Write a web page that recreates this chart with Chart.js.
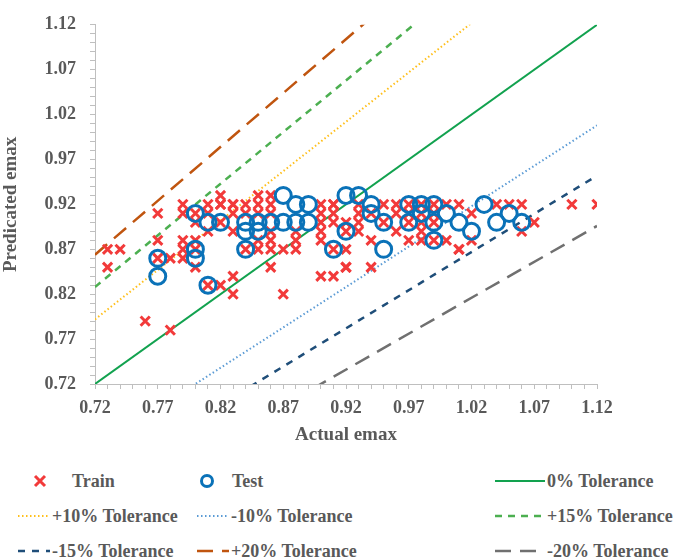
<!DOCTYPE html>
<html>
<head>
<meta charset="utf-8">
<script src="https://cdn.jsdelivr.net/npm/chart.js@4"></script>
<style>
    body { margin: 0; background: #fff; }
    #wrap { position: relative; width: 685px; height: 558px; }
    #chartBox { position: absolute; left: 0; top: 0; width: 685px; height: 450px; }
    .lg { position: absolute; font: bold 18px "Liberation Serif", serif; color: #595959; white-space: nowrap; line-height: 20px; }
    .lg svg { position: absolute; top: 0; }
</style>
</head>
<body>
<div id="wrap">
    <div id="chartBox"><canvas id="myChart"></canvas></div>
    <div id="legend"></div>
</div>
<script>
// measured (actual, predicted) pairs
const trainX = [0.73, 0.74, 0.73, 0.77, 0.77, 0.77, 0.76, 0.78, 0.78,
    0.79, 0.79, 0.79, 0.79, 0.79, 0.80, 0.80, 0.80, 0.80, 0.80,
    0.81, 0.81, 0.81, 0.81, 0.82, 0.82, 0.82, 0.82, 0.83, 0.83, 0.83,
    0.85, 0.86, 0.82, 0.83, 0.84, 0.85, 0.86, 0.90, 0.91,
    0.83, 0.84, 0.85, 0.86, 0.90, 0.91, 0.90, 0.91,
    0.83, 0.86, 0.88, 0.90, 0.85, 0.86, 0.87, 0.88, 0.90,
    0.84, 0.85, 0.86, 0.88, 0.91, 0.86, 0.87, 0.90, 0.91, 0.92, 0.94,
    0.91, 0.93, 0.95, 0.96, 0.97, 0.98, 0.99, 1.00,
    0.93, 0.94, 0.96, 0.97, 0.98, 0.99, 0.92, 0.93, 0.95, 0.97, 0.98, 0.99,
    0.92, 0.93, 0.96, 0.98, 0.94, 0.97, 0.98, 0.99, 1.00, 0.92, 1.01, 0.92,
    1.01, 1.04, 1.05, 1.06, 1.10, 1.12, 1.02, 1.07, 1.06, 1.02, 1.01];
const trainY = [0.87, 0.87, 0.85, 0.91, 0.88, 0.86, 0.79, 0.78, 0.86,
    0.92, 0.91, 0.88, 0.87, 0.86, 0.90, 0.88, 0.85, 0.91, 0.87,
    0.92, 0.91, 0.89, 0.83, 0.93, 0.92, 0.83, 0.90, 0.84, 0.82, 0.92,
    0.93, 0.93, 0.92, 0.92, 0.92, 0.92, 0.92, 0.92, 0.92,
    0.91, 0.91, 0.91, 0.91, 0.91, 0.91, 0.90, 0.90,
    0.89, 0.89, 0.89, 0.89, 0.88, 0.88, 0.87, 0.88, 0.88,
    0.87, 0.87, 0.87, 0.87, 0.87, 0.85, 0.82, 0.84, 0.84, 0.85, 0.85,
    0.92, 0.92, 0.92, 0.92, 0.92, 0.92, 0.92, 0.92,
    0.91, 0.91, 0.91, 0.91, 0.91, 0.91, 0.90, 0.90, 0.90, 0.90, 0.90, 0.90,
    0.89, 0.89, 0.89, 0.89, 0.88, 0.88, 0.88, 0.88, 0.88, 0.87, 0.87, 0.85,
    0.92, 0.92, 0.92, 0.92, 0.92, 0.92, 0.91, 0.90, 0.89, 0.88, 0.87];

const testX = [0.77, 0.77, 0.80, 0.80, 0.80, 0.81, 0.82, 0.81,
    0.84, 0.85, 0.86, 0.87, 0.88, 0.89, 0.84, 0.85, 0.84, 0.87, 0.88, 0.89,
    0.91, 0.92, 0.93, 0.94, 0.94, 0.95, 0.92, 0.95,
    0.97, 0.98, 0.99, 0.97, 0.98, 0.99, 0.99, 1.00, 1.01, 1.02,
    1.03, 1.04, 1.05, 1.06];
const testY = [0.86, 0.84, 0.91, 0.87, 0.86, 0.90, 0.90, 0.83,
    0.90, 0.90, 0.90, 0.90, 0.90, 0.90, 0.89, 0.89, 0.87, 0.93, 0.92, 0.92,
    0.87, 0.93, 0.93, 0.92, 0.91, 0.90, 0.89, 0.87,
    0.92, 0.92, 0.92, 0.90, 0.91, 0.90, 0.88, 0.91, 0.90, 0.89,
    0.92, 0.90, 0.91, 0.90];

// tolerance lines: predicted = factor * actual
const tolLabels = ['0% Tolerance', '+10% Tolerance', '-10% Tolerance', '+15% Tolerance',
    '-15% Tolerance', '+20% Tolerance', '-20% Tolerance'];
const tolFactors = [1.0, 1.1, 0.9, 1.15, 0.85, 1.2, 0.8];
const tolColors = ['#12a24f', '#ffbf1a', '#5b9bd5', '#4caf50', '#1f4e79', '#c0550f', '#707070'];
const tolDash = [[], [1.5, 2.5], [1.5, 2.5], [7, 6], [7, 7], [16, 9], [16, 9]];
const tolWidth = [2, 2, 2, 2.5, 2.5, 2.5, 2.5];

const axisMin = 0.72, axisMax = 1.12;

const datasets = [];
datasets.push({
    label: 'Train', type: 'scatter', order: 2,
    data: trainX.map((x, i) => ({ x: x, y: trainY[i] })),
    pointStyle: 'crossRot', pointRadius: 6.5, borderColor: '#f23a3a', borderWidth: 3,
    backgroundColor: '#f23a3a'
});
datasets.push({
    label: 'Test', type: 'scatter', order: 1,
    data: testX.map((x, i) => ({ x: x, y: testY[i] })),
    pointStyle: 'circle', pointRadius: 8, borderColor: '#0a72b8', borderWidth: 3,
    backgroundColor: 'rgba(0,0,0,0)'
});
tolFactors.forEach((f, i) => {
    datasets.push({
        label: tolLabels[i], type: 'line', order: 3,
        data: [{ x: axisMin, y: f * axisMin }, { x: axisMax, y: f * axisMax }],
        borderColor: tolColors[i], borderDash: tolDash[i], borderWidth: tolWidth[i],
        pointRadius: 0, fill: false, tension: 0
    });
});

function tickLabel(v) {
    let k = Math.round((v - axisMin) / 0.01);
    return k % 5 === 0 ? v.toFixed(2) : '';
}

const font = { family: '"Liberation Serif", serif', weight: 'bold', size: 18 };
const titleFont = { family: '"Liberation Serif", serif', weight: 'bold', size: 19 };
const gray = '#595959';

const ctx = document.getElementById('myChart').getContext('2d');
new Chart(ctx, {
    type: 'scatter',
    data: { datasets: datasets },
    options: {
        responsive: true,
        maintainAspectRatio: false,
        animation: false,
        layout: { padding: { left: 0, right: 88, top: 20, bottom: 0 } },
        plugins: { legend: { display: false }, tooltip: { enabled: false } },
        scales: {
            x: {
                type: 'linear', min: axisMin, max: axisMax,
                afterFit: s => { s.height = 66; },
                ticks: { stepSize: 0.01, autoSkip: false, maxRotation: 0, color: gray, font: font, padding: 9, callback: tickLabel },
                grid: { drawOnChartArea: false, color: '#bfbfbf', tickLength: 5, tickColor: '#bfbfbf' },
                border: { color: '#bfbfbf' },
                title: { display: true, text: 'Actual emax', color: gray, font: titleFont, padding: { top: 4 } }
            },
            y: {
                type: 'linear', min: axisMin, max: axisMax,
                afterFit: s => { s.width = 95; },
                ticks: { stepSize: 0.01, autoSkip: false, color: gray, font: font, padding: 14, callback: tickLabel },
                grid: { drawOnChartArea: false, color: '#bfbfbf', tickLength: 5, tickColor: '#bfbfbf' },
                border: { color: '#bfbfbf' },
                title: { display: true, text: 'Predicated emax', color: gray, font: titleFont, padding: { top: 0, bottom: 0 } }
            }
        }
    }
});

// legend, 3 x 3 grid below the chart
const legendCols = [18, 197, 495];
const legendRows = [471, 506, 541];
const legendItems = [
    { label: 'Train', kind: 'train' },
    { label: 'Test', kind: 'test' }
].concat(tolLabels.map((t, i) => ({ label: t, kind: 'line', idx: i })));

const legend = document.getElementById('legend');
legendItems.forEach((it, n) => {
    const col = n % 3, row = Math.floor(n / 3);
    const el = document.createElement('div');
    el.className = 'lg';
    el.style.top = legendRows[row] + 'px';
    let sw, svg;
    if (it.kind === 'train') {
        sw = 54;
        svg = `<svg width="${sw}" height="20"><path d="M17 5 L27 15 M27 5 L17 15" stroke="#f23a3a" stroke-width="3"/></svg>`;
    } else if (it.kind === 'test') {
        sw = 35;
        svg = `<svg width="${sw}" height="20"><circle cx="10" cy="10" r="5.5" fill="none" stroke="#0a72b8" stroke-width="3"/></svg>`;
    } else {
        const i = it.idx;
        sw = (col === 2) ? 52 : 34;
        const dash = tolDash[i].length ? tolDash[i].join(',') : 'none';
        svg = `<svg width="${sw}" height="20"><line x1="0" y1="10" x2="${sw - 2}" y2="10" stroke="${tolColors[i]}" stroke-width="${tolWidth[i]}" stroke-dasharray="${dash}"/></svg>`;
    }
    el.style.left = legendCols[col] + 'px';
    el.innerHTML = svg + `<span style="margin-left:${sw}px">${it.label}</span>`;
    legend.appendChild(el);
});
</script>
</body>
</html>
